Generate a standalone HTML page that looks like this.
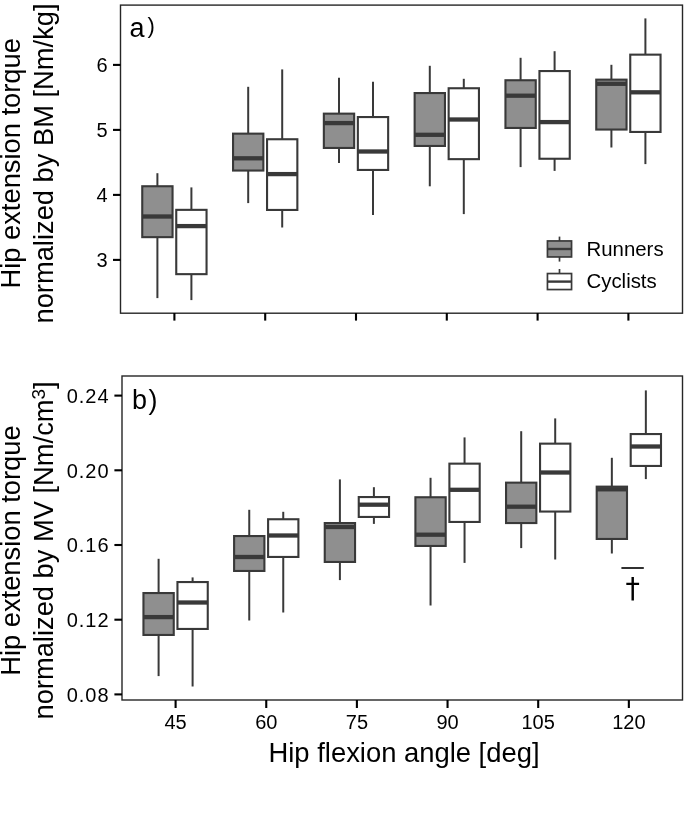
<!DOCTYPE html>
<html><head><meta charset="utf-8"><style>
html,body{margin:0;padding:0;background:#fff;}
svg{display:block;}
text{font-family:"Liberation Sans",Arial,sans-serif;fill:#000;}
</style></head><body>
<svg width="685" height="823" viewBox="0 0 685 823">
<rect x="0" y="0" width="685" height="823" fill="#fff"/>
<rect x="120.5" y="5.1" width="562" height="308.1" fill="none" stroke="#262626" stroke-width="1.4"/>
<rect x="122" y="376" width="560.5" height="324" fill="none" stroke="#262626" stroke-width="1.4"/>
<line x1="157.40" y1="173.20" x2="157.40" y2="186.25" stroke="#393939" stroke-width="2.0"/>
<line x1="157.40" y1="237.15" x2="157.40" y2="298.10" stroke="#393939" stroke-width="2.0"/>
<rect x="142.25" y="186.25" width="30.30" height="50.90" fill="#8f8f8f" stroke="#393939" stroke-width="2.1"/>
<line x1="142.25" y1="216.50" x2="172.55" y2="216.50" stroke="#393939" stroke-width="4.3"/>
<line x1="191.40" y1="187.40" x2="191.40" y2="209.85" stroke="#393939" stroke-width="2.0"/>
<line x1="191.40" y1="274.15" x2="191.40" y2="300.10" stroke="#393939" stroke-width="2.0"/>
<rect x="176.25" y="209.85" width="30.30" height="64.30" fill="#fff" stroke="#393939" stroke-width="2.1"/>
<line x1="176.25" y1="226.10" x2="206.55" y2="226.10" stroke="#393939" stroke-width="4.3"/>
<line x1="248.20" y1="86.80" x2="248.20" y2="133.65" stroke="#393939" stroke-width="2.0"/>
<line x1="248.20" y1="170.55" x2="248.20" y2="203.10" stroke="#393939" stroke-width="2.0"/>
<rect x="233.05" y="133.65" width="30.30" height="36.90" fill="#8f8f8f" stroke="#393939" stroke-width="2.1"/>
<line x1="233.05" y1="158.30" x2="263.35" y2="158.30" stroke="#393939" stroke-width="4.3"/>
<line x1="282.20" y1="69.40" x2="282.20" y2="139.25" stroke="#393939" stroke-width="2.0"/>
<line x1="282.20" y1="209.95" x2="282.20" y2="227.50" stroke="#393939" stroke-width="2.0"/>
<rect x="267.05" y="139.25" width="30.30" height="70.70" fill="#fff" stroke="#393939" stroke-width="2.1"/>
<line x1="267.05" y1="174.10" x2="297.35" y2="174.10" stroke="#393939" stroke-width="4.3"/>
<line x1="339.00" y1="77.80" x2="339.00" y2="113.65" stroke="#393939" stroke-width="2.0"/>
<line x1="339.00" y1="147.95" x2="339.00" y2="163.10" stroke="#393939" stroke-width="2.0"/>
<rect x="323.85" y="113.65" width="30.30" height="34.30" fill="#8f8f8f" stroke="#393939" stroke-width="2.1"/>
<line x1="323.85" y1="123.10" x2="354.15" y2="123.10" stroke="#393939" stroke-width="4.3"/>
<line x1="373.00" y1="81.80" x2="373.00" y2="117.05" stroke="#393939" stroke-width="2.0"/>
<line x1="373.00" y1="169.95" x2="373.00" y2="214.90" stroke="#393939" stroke-width="2.0"/>
<rect x="357.85" y="117.05" width="30.30" height="52.90" fill="#fff" stroke="#393939" stroke-width="2.1"/>
<line x1="357.85" y1="151.50" x2="388.15" y2="151.50" stroke="#393939" stroke-width="4.3"/>
<line x1="429.80" y1="65.80" x2="429.80" y2="93.05" stroke="#393939" stroke-width="2.0"/>
<line x1="429.80" y1="145.95" x2="429.80" y2="186.30" stroke="#393939" stroke-width="2.0"/>
<rect x="414.65" y="93.05" width="30.30" height="52.90" fill="#8f8f8f" stroke="#393939" stroke-width="2.1"/>
<line x1="414.65" y1="134.80" x2="444.95" y2="134.80" stroke="#393939" stroke-width="4.3"/>
<line x1="463.80" y1="78.80" x2="463.80" y2="88.25" stroke="#393939" stroke-width="2.0"/>
<line x1="463.80" y1="159.15" x2="463.80" y2="214.10" stroke="#393939" stroke-width="2.0"/>
<rect x="448.65" y="88.25" width="30.30" height="70.90" fill="#fff" stroke="#393939" stroke-width="2.1"/>
<line x1="448.65" y1="119.50" x2="478.95" y2="119.50" stroke="#393939" stroke-width="4.3"/>
<line x1="520.60" y1="57.80" x2="520.60" y2="80.25" stroke="#393939" stroke-width="2.0"/>
<line x1="520.60" y1="127.95" x2="520.60" y2="167.10" stroke="#393939" stroke-width="2.0"/>
<rect x="505.45" y="80.25" width="30.30" height="47.70" fill="#8f8f8f" stroke="#393939" stroke-width="2.1"/>
<line x1="505.45" y1="95.70" x2="535.75" y2="95.70" stroke="#393939" stroke-width="4.3"/>
<line x1="554.60" y1="51.20" x2="554.60" y2="71.05" stroke="#393939" stroke-width="2.0"/>
<line x1="554.60" y1="158.75" x2="554.60" y2="170.90" stroke="#393939" stroke-width="2.0"/>
<rect x="539.45" y="71.05" width="30.30" height="87.70" fill="#fff" stroke="#393939" stroke-width="2.1"/>
<line x1="539.45" y1="122.10" x2="569.75" y2="122.10" stroke="#393939" stroke-width="4.3"/>
<line x1="611.40" y1="64.80" x2="611.40" y2="79.65" stroke="#393939" stroke-width="2.0"/>
<line x1="611.40" y1="129.55" x2="611.40" y2="147.50" stroke="#393939" stroke-width="2.0"/>
<rect x="596.25" y="79.65" width="30.30" height="49.90" fill="#8f8f8f" stroke="#393939" stroke-width="2.1"/>
<line x1="596.25" y1="83.80" x2="626.55" y2="83.80" stroke="#393939" stroke-width="4.3"/>
<line x1="645.40" y1="18.40" x2="645.40" y2="54.65" stroke="#393939" stroke-width="2.0"/>
<line x1="645.40" y1="131.95" x2="645.40" y2="164.10" stroke="#393939" stroke-width="2.0"/>
<rect x="630.25" y="54.65" width="30.30" height="77.30" fill="#fff" stroke="#393939" stroke-width="2.1"/>
<line x1="630.25" y1="92.30" x2="660.55" y2="92.30" stroke="#393939" stroke-width="4.3"/>
<line x1="158.60" y1="558.80" x2="158.60" y2="593.05" stroke="#393939" stroke-width="2.0"/>
<line x1="158.60" y1="634.95" x2="158.60" y2="676.10" stroke="#393939" stroke-width="2.0"/>
<rect x="143.45" y="593.05" width="30.30" height="41.90" fill="#8f8f8f" stroke="#393939" stroke-width="2.1"/>
<line x1="143.45" y1="617.10" x2="173.75" y2="617.10" stroke="#393939" stroke-width="4.3"/>
<line x1="192.60" y1="577.40" x2="192.60" y2="582.05" stroke="#393939" stroke-width="2.0"/>
<line x1="192.60" y1="628.95" x2="192.60" y2="686.50" stroke="#393939" stroke-width="2.0"/>
<rect x="177.45" y="582.05" width="30.30" height="46.90" fill="#fff" stroke="#393939" stroke-width="2.1"/>
<line x1="177.45" y1="602.50" x2="207.75" y2="602.50" stroke="#393939" stroke-width="4.3"/>
<line x1="249.25" y1="509.80" x2="249.25" y2="536.05" stroke="#393939" stroke-width="2.0"/>
<line x1="249.25" y1="570.95" x2="249.25" y2="620.50" stroke="#393939" stroke-width="2.0"/>
<rect x="234.10" y="536.05" width="30.30" height="34.90" fill="#8f8f8f" stroke="#393939" stroke-width="2.1"/>
<line x1="234.10" y1="557.00" x2="264.40" y2="557.00" stroke="#393939" stroke-width="4.3"/>
<line x1="283.25" y1="511.80" x2="283.25" y2="519.25" stroke="#393939" stroke-width="2.0"/>
<line x1="283.25" y1="556.95" x2="283.25" y2="612.50" stroke="#393939" stroke-width="2.0"/>
<rect x="268.10" y="519.25" width="30.30" height="37.70" fill="#fff" stroke="#393939" stroke-width="2.1"/>
<line x1="268.10" y1="535.50" x2="298.40" y2="535.50" stroke="#393939" stroke-width="4.3"/>
<line x1="339.90" y1="479.40" x2="339.90" y2="523.05" stroke="#393939" stroke-width="2.0"/>
<line x1="339.90" y1="561.95" x2="339.90" y2="580.10" stroke="#393939" stroke-width="2.0"/>
<rect x="324.75" y="523.05" width="30.30" height="38.90" fill="#8f8f8f" stroke="#393939" stroke-width="2.1"/>
<line x1="324.75" y1="527.00" x2="355.05" y2="527.00" stroke="#393939" stroke-width="4.3"/>
<line x1="373.90" y1="487.20" x2="373.90" y2="497.05" stroke="#393939" stroke-width="2.0"/>
<line x1="373.90" y1="516.95" x2="373.90" y2="523.90" stroke="#393939" stroke-width="2.0"/>
<rect x="358.75" y="497.05" width="30.30" height="19.90" fill="#fff" stroke="#393939" stroke-width="2.1"/>
<line x1="358.75" y1="504.70" x2="389.05" y2="504.70" stroke="#393939" stroke-width="4.3"/>
<line x1="430.55" y1="477.80" x2="430.55" y2="497.25" stroke="#393939" stroke-width="2.0"/>
<line x1="430.55" y1="545.95" x2="430.55" y2="605.50" stroke="#393939" stroke-width="2.0"/>
<rect x="415.40" y="497.25" width="30.30" height="48.70" fill="#8f8f8f" stroke="#393939" stroke-width="2.1"/>
<line x1="415.40" y1="534.70" x2="445.70" y2="534.70" stroke="#393939" stroke-width="4.3"/>
<line x1="464.55" y1="437.40" x2="464.55" y2="463.65" stroke="#393939" stroke-width="2.0"/>
<line x1="464.55" y1="521.95" x2="464.55" y2="562.90" stroke="#393939" stroke-width="2.0"/>
<rect x="449.40" y="463.65" width="30.30" height="58.30" fill="#fff" stroke="#393939" stroke-width="2.1"/>
<line x1="449.40" y1="489.80" x2="479.70" y2="489.80" stroke="#393939" stroke-width="4.3"/>
<line x1="521.20" y1="431.20" x2="521.20" y2="482.65" stroke="#393939" stroke-width="2.0"/>
<line x1="521.20" y1="523.05" x2="521.20" y2="548.10" stroke="#393939" stroke-width="2.0"/>
<rect x="506.05" y="482.65" width="30.30" height="40.40" fill="#8f8f8f" stroke="#393939" stroke-width="2.1"/>
<line x1="506.05" y1="506.70" x2="536.35" y2="506.70" stroke="#393939" stroke-width="4.3"/>
<line x1="555.20" y1="418.40" x2="555.20" y2="443.65" stroke="#393939" stroke-width="2.0"/>
<line x1="555.20" y1="511.55" x2="555.20" y2="559.50" stroke="#393939" stroke-width="2.0"/>
<rect x="540.05" y="443.65" width="30.30" height="67.90" fill="#fff" stroke="#393939" stroke-width="2.1"/>
<line x1="540.05" y1="472.50" x2="570.35" y2="472.50" stroke="#393939" stroke-width="4.3"/>
<line x1="611.85" y1="457.80" x2="611.85" y2="486.65" stroke="#393939" stroke-width="2.0"/>
<line x1="611.85" y1="538.95" x2="611.85" y2="553.50" stroke="#393939" stroke-width="2.0"/>
<rect x="596.70" y="486.65" width="30.30" height="52.30" fill="#8f8f8f" stroke="#393939" stroke-width="2.1"/>
<line x1="596.70" y1="489.30" x2="627.00" y2="489.30" stroke="#393939" stroke-width="4.3"/>
<line x1="645.85" y1="390.40" x2="645.85" y2="434.05" stroke="#393939" stroke-width="2.0"/>
<line x1="645.85" y1="465.95" x2="645.85" y2="479.10" stroke="#393939" stroke-width="2.0"/>
<rect x="630.70" y="434.05" width="30.30" height="31.90" fill="#fff" stroke="#393939" stroke-width="2.1"/>
<line x1="630.70" y1="446.50" x2="661.00" y2="446.50" stroke="#393939" stroke-width="4.3"/>
<line x1="113" y1="64.90" x2="120.5" y2="64.90" stroke="#000" stroke-width="2.1"/>
<text x="107.5" y="72.10" font-size="20" text-anchor="end">6</text>
<line x1="113" y1="129.90" x2="120.5" y2="129.90" stroke="#000" stroke-width="2.1"/>
<text x="107.5" y="137.10" font-size="20" text-anchor="end">5</text>
<line x1="113" y1="194.90" x2="120.5" y2="194.90" stroke="#000" stroke-width="2.1"/>
<text x="107.5" y="202.10" font-size="20" text-anchor="end">4</text>
<line x1="113" y1="259.90" x2="120.5" y2="259.90" stroke="#000" stroke-width="2.1"/>
<text x="107.5" y="267.10" font-size="20" text-anchor="end">3</text>
<line x1="174.40" y1="313" x2="174.40" y2="320.6" stroke="#000" stroke-width="2.1"/>
<line x1="265.20" y1="313" x2="265.20" y2="320.6" stroke="#000" stroke-width="2.1"/>
<line x1="356.00" y1="313" x2="356.00" y2="320.6" stroke="#000" stroke-width="2.1"/>
<line x1="446.80" y1="313" x2="446.80" y2="320.6" stroke="#000" stroke-width="2.1"/>
<line x1="537.60" y1="313" x2="537.60" y2="320.6" stroke="#000" stroke-width="2.1"/>
<line x1="628.40" y1="313" x2="628.40" y2="320.6" stroke="#000" stroke-width="2.1"/>
<line x1="114.4" y1="395.60" x2="122" y2="395.60" stroke="#000" stroke-width="2.1"/>
<text x="108.6" y="402.80" font-size="20" text-anchor="end" textLength="41.9" lengthAdjust="spacing">0.24</text>
<line x1="114.4" y1="470.30" x2="122" y2="470.30" stroke="#000" stroke-width="2.1"/>
<text x="108.6" y="477.50" font-size="20" text-anchor="end" textLength="41.9" lengthAdjust="spacing">0.20</text>
<line x1="114.4" y1="545.00" x2="122" y2="545.00" stroke="#000" stroke-width="2.1"/>
<text x="108.6" y="552.20" font-size="20" text-anchor="end" textLength="41.9" lengthAdjust="spacing">0.16</text>
<line x1="114.4" y1="619.70" x2="122" y2="619.70" stroke="#000" stroke-width="2.1"/>
<text x="108.6" y="626.90" font-size="20" text-anchor="end" textLength="41.9" lengthAdjust="spacing">0.12</text>
<line x1="114.4" y1="694.40" x2="122" y2="694.40" stroke="#000" stroke-width="2.1"/>
<text x="108.6" y="701.60" font-size="20" text-anchor="end" textLength="41.9" lengthAdjust="spacing">0.08</text>
<line x1="175.60" y1="700" x2="175.60" y2="708" stroke="#000" stroke-width="2.1"/>
<text x="175.60" y="728.6" font-size="20" text-anchor="middle">45</text>
<line x1="266.25" y1="700" x2="266.25" y2="708" stroke="#000" stroke-width="2.1"/>
<text x="266.25" y="728.6" font-size="20" text-anchor="middle">60</text>
<line x1="356.90" y1="700" x2="356.90" y2="708" stroke="#000" stroke-width="2.1"/>
<text x="356.90" y="728.6" font-size="20" text-anchor="middle">75</text>
<line x1="447.55" y1="700" x2="447.55" y2="708" stroke="#000" stroke-width="2.1"/>
<text x="447.55" y="728.6" font-size="20" text-anchor="middle">90</text>
<line x1="538.20" y1="700" x2="538.20" y2="708" stroke="#000" stroke-width="2.1"/>
<text x="538.20" y="728.6" font-size="20" text-anchor="middle">105</text>
<line x1="628.85" y1="700" x2="628.85" y2="708" stroke="#000" stroke-width="2.1"/>
<text x="628.85" y="728.6" font-size="20" text-anchor="middle">120</text>
<text x="268.5" y="762.1" font-size="27.4">Hip flexion angle [deg]</text>
<text transform="translate(20.2,288.5) rotate(-90)" font-size="27.3">Hip extension torque</text>
<text transform="translate(52.9,323.5) rotate(-90)" font-size="27.3">normalized by BM [Nm/kg]</text>
<text transform="translate(20.2,675.8) rotate(-90)" font-size="27.3">Hip extension torque</text>
<text transform="translate(52.9,719.5) rotate(-90)" font-size="27.3">normalized by MV [Nm/cm<tspan font-size="19" dy="-7.8">3</tspan><tspan dy="7.8">]</tspan></text>
<text x="129.5" y="37" font-size="27">a</text>
<text x="147.5" y="32.7" font-size="22">)</text>
<text x="132" y="409" font-size="27">b</text>
<text x="148.5" y="409" font-size="27">)</text>
<line x1="559.50" y1="236.6" x2="559.50" y2="261.6" stroke="#393939" stroke-width="1.7"/>
<rect x="547.45" y="240.95" width="24.10" height="16.00" fill="#8f8f8f" stroke="#393939" stroke-width="1.7"/>
<line x1="547.45" y1="249" x2="571.55" y2="249" stroke="#393939" stroke-width="2.4"/>
<text x="586.5" y="256" font-size="20.4">Runners</text>
<line x1="559.50" y1="269" x2="559.50" y2="290" stroke="#393939" stroke-width="1.7"/>
<rect x="547.45" y="273.55" width="24.10" height="16.00" fill="#fff" stroke="#393939" stroke-width="1.7"/>
<line x1="547.45" y1="281.6" x2="571.55" y2="281.6" stroke="#393939" stroke-width="2.4"/>
<text x="586.5" y="287.6" font-size="20.4">Cyclists</text>
<line x1="621.4" y1="568" x2="643.8" y2="568" stroke="#1a1a1a" stroke-width="1.8"/>
<text x="632.6" y="598.0" font-size="28.8" font-family="DejaVu Sans" style="font-family:'DejaVu Sans',sans-serif" text-anchor="middle">†</text>
</svg></body></html>
